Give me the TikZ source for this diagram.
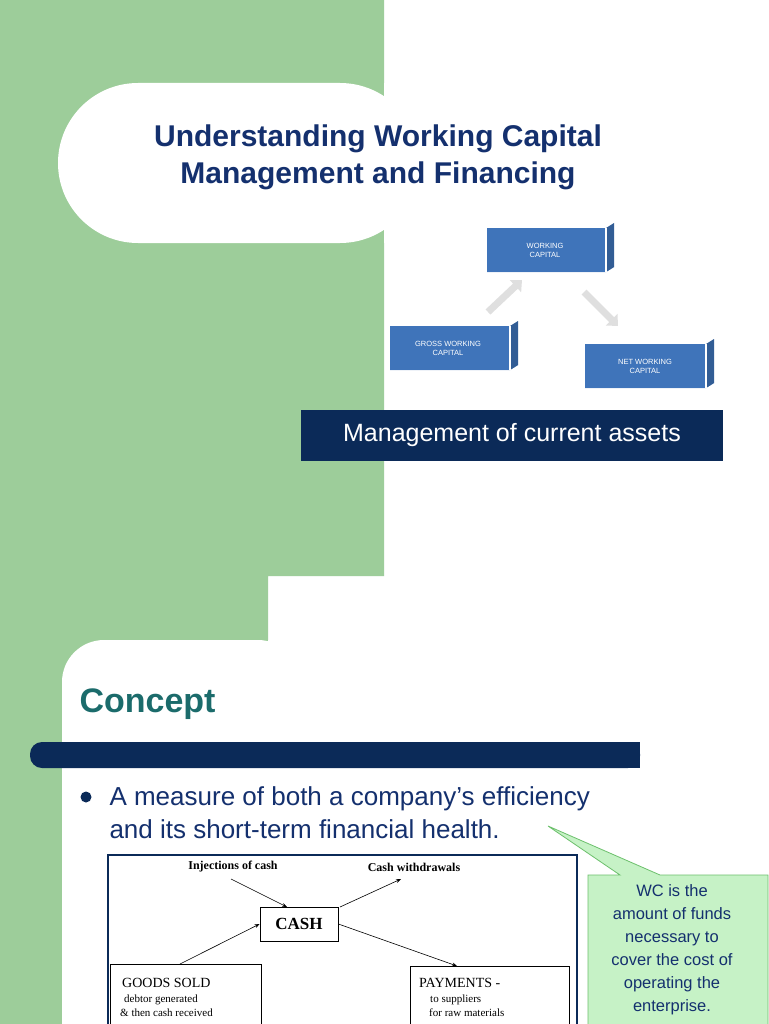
\documentclass[tikz,border=0pt]{standalone}
\usepackage{fontspec}
\setmainfont{Liberation Sans}
\newfontfamily\serif{Liberation Serif}
\usetikzlibrary{arrows.meta}
\definecolor{bggreen}{HTML}{9DCD9A}
\definecolor{titleblue}{HTML}{14306E}
\definecolor{navy}{HTML}{0B2A58}
\definecolor{boxblue}{HTML}{3F74BA}
\definecolor{teal}{HTML}{1B6B6B}
\definecolor{callout}{HTML}{C6F2C6}
\definecolor{calloutb}{HTML}{6CC06C}
\tikzset{
 blk/.style={draw=black,line width=0.8pt,fill=white},
 flow/.style={-{Stealth[length=5pt]},line width=0.6pt},
 tb/.style={font=\serif\fontsize{11}{13}\selectfont,inner sep=0pt},
 cube/.style={font=\fontsize{7.5}{9}\selectfont,text=white,align=center},
 fat/.style={line width=7pt,draw=gray!25,-{Triangle[length=9pt,width=16pt]}},
}
\newcommand{\cubebox}[5]{% x1,y1,x2,y2,name
 \fill[boxblue!70!white] (#1,#2) -- (#1+8,#2-5) -- (#3+8,#2-5) -- (#3,#2) -- cycle;
 \fill[boxblue!80!black] (#3,#2) -- (#3+8,#2-5) -- (#3+8,#4-5) -- (#3,#4) -- cycle;
 \fill[boxblue] (#1,#2) rectangle (#3,#4);
 \draw[white,line width=1.5pt] (#3,#2) -- (#3,#4);
}
\begin{document}
\begin{tikzpicture}[x=1pt,y=-1pt]
\useasboundingbox (0,0) rectangle (768,1024);
\fill[white] (0,0) rectangle (768,1024);
% green background
\fill[bggreen] (0,0) -- (384,0) -- (384,576) -- (268,576) -- (268,640) -- (0,640) -- cycle;
\fill[bggreen] (0,640) rectangle (62,1024);
\fill[bggreen] (62,576) rectangle (268,680);
\fill[white,rounded corners=42pt] (62,1030) -- (62,640) -- (300,640) -- (300,1030) -- cycle;
\fill[white] (268,640) rectangle (768,700);
% top tab
\fill[white,rounded corners=80pt] (420,83) -- (58,83) -- (58,243) -- (420,243) -- cycle;
\fill[white] (384,83) rectangle (768,243);
\node[font=\bfseries\fontsize{30}{37}\selectfont,text=titleblue,align=center] (title) at (378,157) {Understanding Working Capital\\Management and Financing};
% cubes
\cubebox{487}{272}{606}{228}{wc}
\cubebox{390}{370}{510}{326}{gwc}
\cubebox{585}{388}{706}{344}{nwc}
\node[cube] (wc) at (545,250) {WORKING\\CAPITAL};
\node[cube] (gwc) at (448,348) {GROSS WORKING\\CAPITAL};
\node[cube] (nwc) at (645,366) {NET WORKING\\CAPITAL};
\coordinate (a1s) at (488,312); \coordinate (a1e) at (522,280);
\coordinate (a2s) at (584,292); \coordinate (a2e) at (618,326);
\draw[fat] (a1s) -- (a1e);
\draw[fat] (a2s) -- (a2e);
\node[fill=navy,text=white,minimum width=422pt,minimum height=51pt,font=\fontsize{25}{30}\selectfont] (mca) at (512,435) {Management of current assets};
% concept
\node[anchor=west,font=\bfseries\fontsize{34}{40}\selectfont,text=teal] (concept) at (76,704) {Concept};
\fill[navy,rounded corners=12pt] (30,742) rectangle (640,768);
\fill[navy] (80,742) rectangle (640,768);
\fill[navy] (86,797) circle (5.5pt);
\node[anchor=west,font=\fontsize{26}{33}\selectfont,text=titleblue,align=left] (bul) at (106,813) {A measure of both a company's efficiency\\and its short-term financial health.};
% callout
\fill[callout,draw=calloutb,line width=0.8pt] (588,875) -- (620,875) -- (548,826) -- (660,875) -- (768,875) -- (768,1030) -- (588,1030) -- cycle;
\node[font=\fontsize{16.5}{23}\selectfont,align=center,text=titleblue] (wc2) at (672,950) {WC is the\\amount of funds\\necessary to\\cover the cost of\\operating the\\enterprise.};
% diagram
\draw[navy,line width=2pt,fill=white] (108,1030) -- (108,855) -- (577,855) -- (577,1030);
\node[tb,font=\serif\bfseries\fontsize{12}{14}\selectfont] (inj) at (233,867) {Injections of cash};
\node[tb,font=\serif\bfseries\fontsize{12}{14}\selectfont] (wd) at (414,867) {Cash withdrawals};
\node[blk,minimum width=78pt,minimum height=34pt,font=\serif\bfseries\fontsize{17}{20}\selectfont] (cash) at (299,924) {CASH};
\node[blk,anchor=north west,minimum width=151pt,minimum height=70pt] (goods) at (110,964) {};
\node[blk,anchor=north west,minimum width=159pt,minimum height=70pt] (pay) at (410,966) {};
\node[tb,anchor=west,font=\serif\fontsize{14}{16}\selectfont] (gs) at (122,983) {GOODS SOLD};
\node[tb,anchor=west] (gs1) at (124,1000) {debtor generated};
\node[tb,anchor=west] (gs2) at (120,1013) {\& then cash received};
\node[tb,anchor=west,font=\serif\fontsize{14}{16}\selectfont] (py) at (419,983) {PAYMENTS -};
\node[tb,anchor=west] (py1) at (430,1000) {to suppliers};
\node[tb,anchor=west] (py2) at (429,1013) {for raw materials};
\coordinate (i1) at (231,879); \coordinate (w1) at (401,879);
\coordinate (g1) at (180,964);
\draw[flow] (i1) -- (287,907);
\draw[flow] (340,907) -- (w1);
\draw[flow] (g1) -- (cash.west);
\draw[flow] (cash.east) -- (457,966);
\end{tikzpicture}
\end{document}
